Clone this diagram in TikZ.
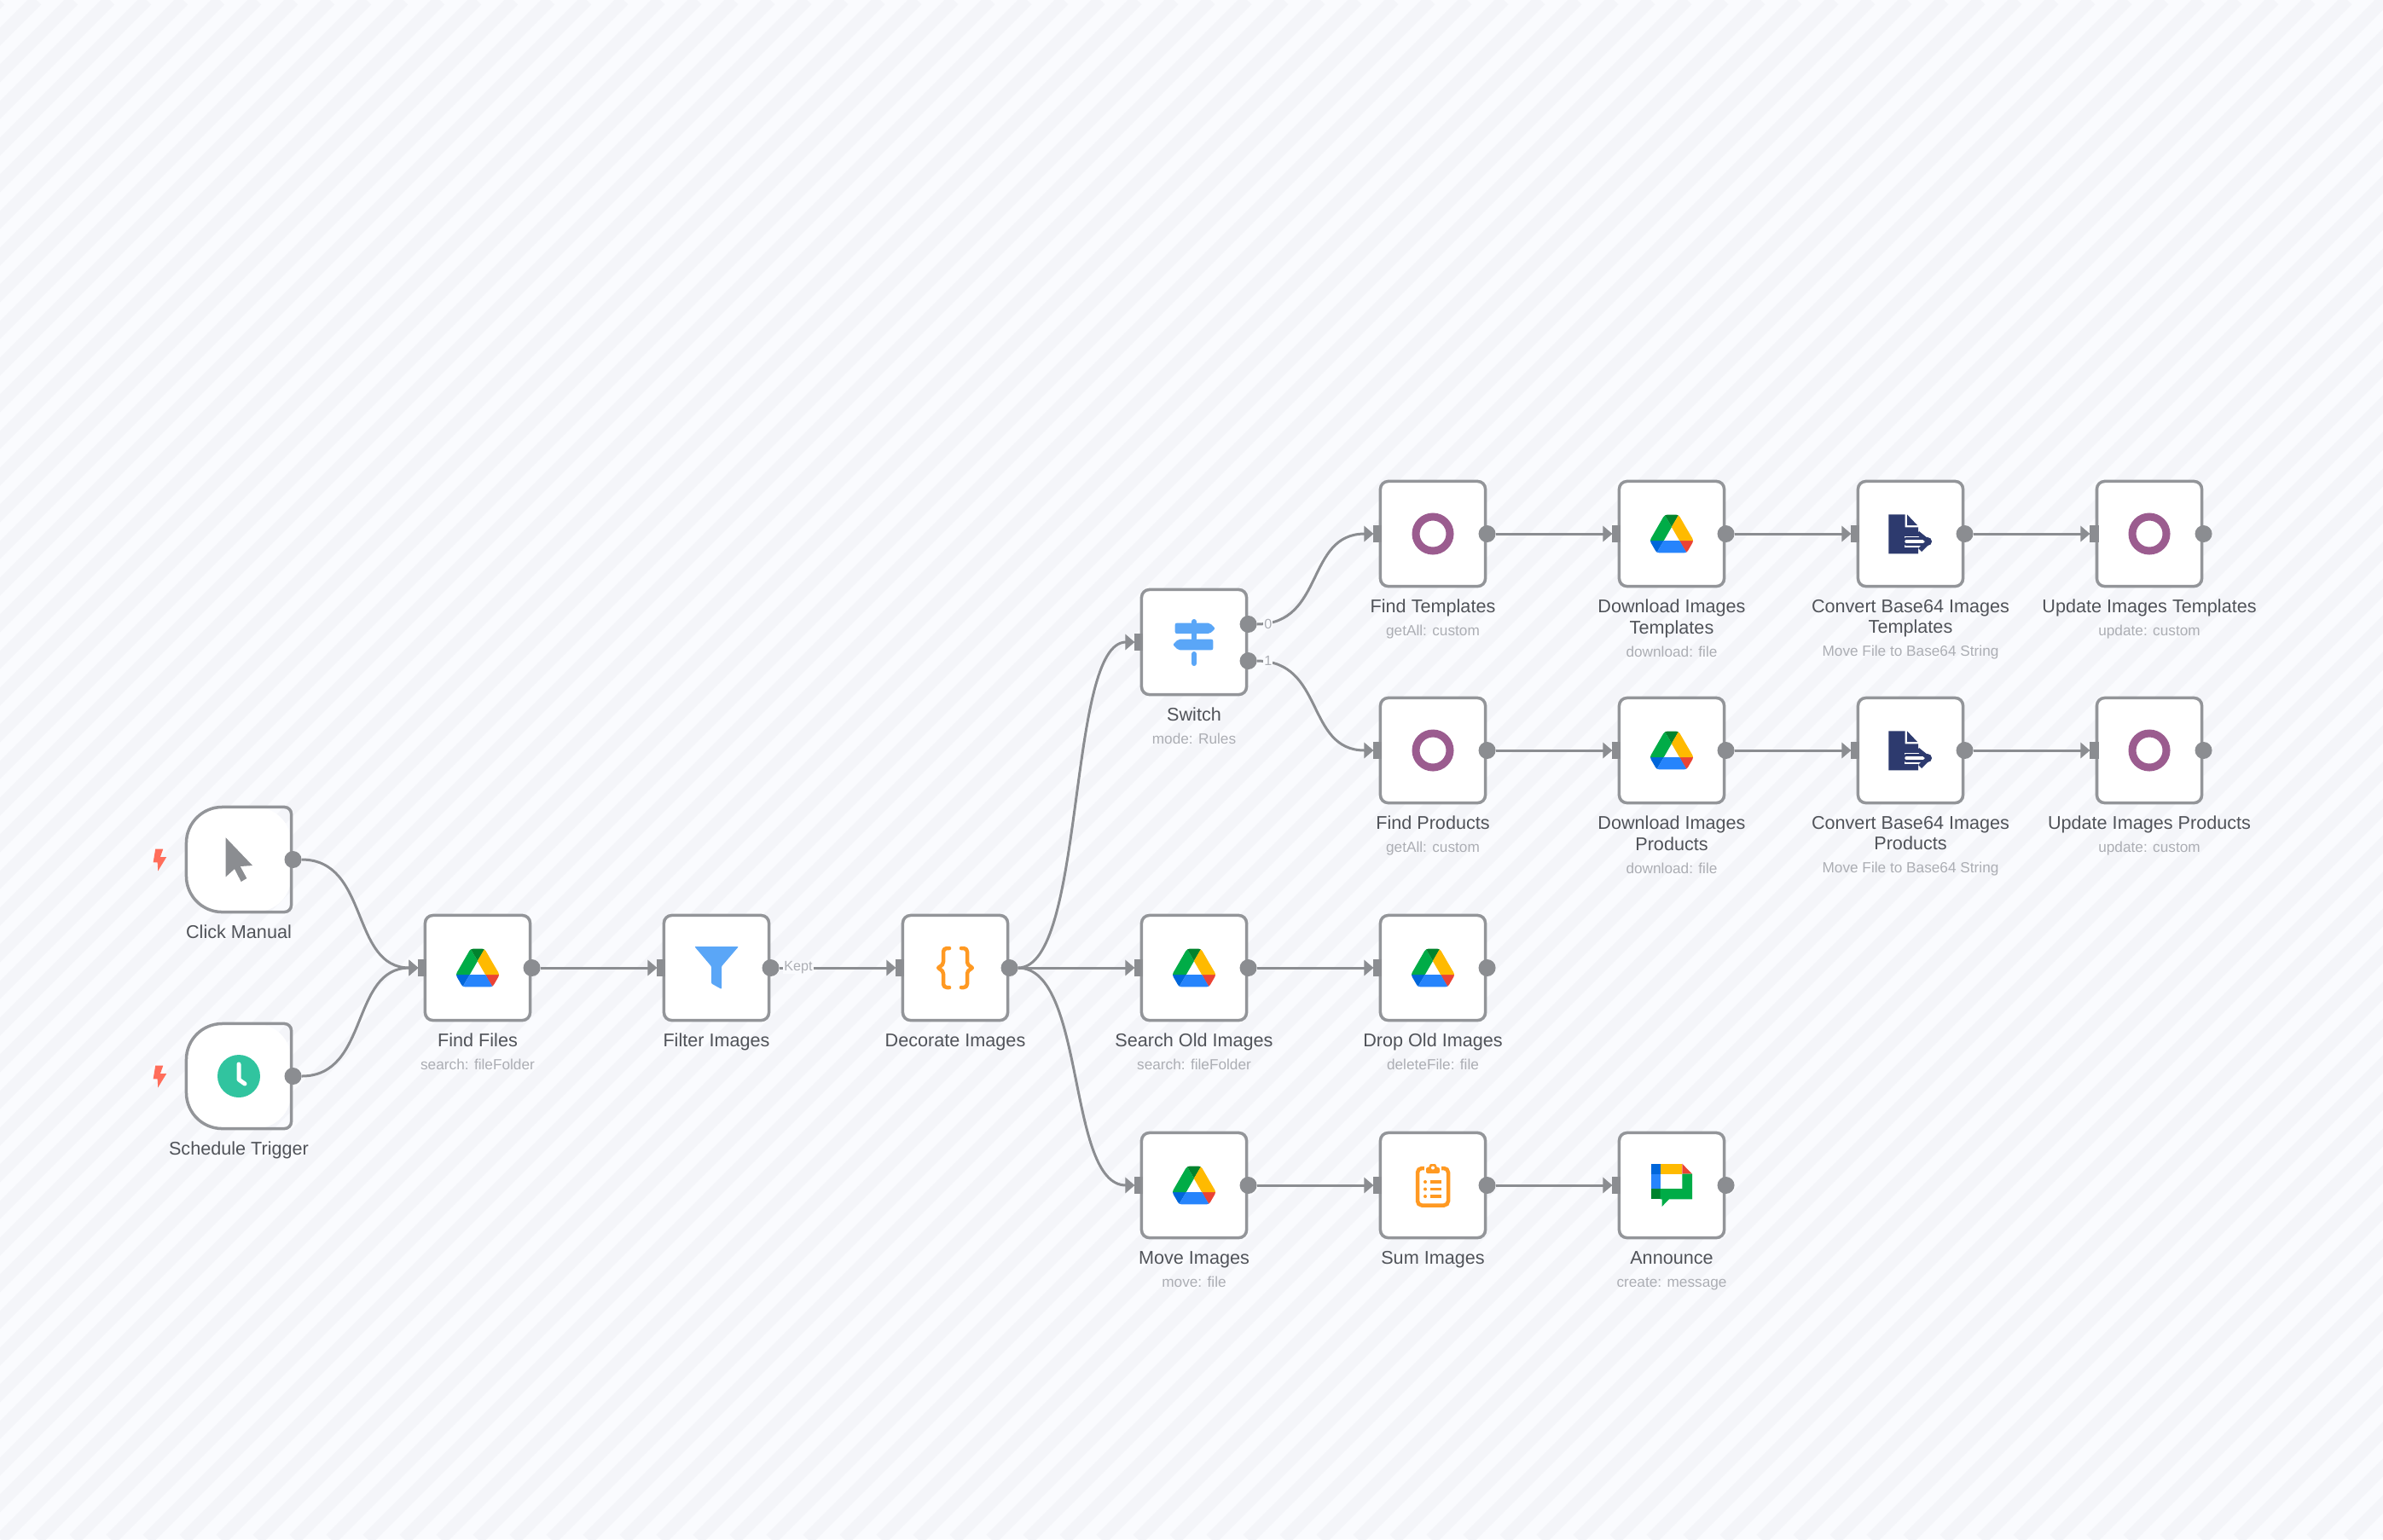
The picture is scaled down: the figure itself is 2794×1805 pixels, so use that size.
\documentclass[tikz,border=0pt]{standalone}
\usepackage{fontspec}
\setmainfont{Liberation Sans}
\usetikzlibrary{positioning,arrows.meta}

\definecolor{bgpale}{HTML}{FAFBFE}
\definecolor{bgstripe}{HTML}{F4F5F9}
\definecolor{linegray}{HTML}{8B8D91}
\definecolor{boxgray}{HTML}{939599}
\definecolor{titlegray}{HTML}{505359}
\definecolor{notegray}{HTML}{ACAEB4}
\definecolor{boltred}{HTML}{FF6D5A}
\definecolor{clockgreen}{HTML}{31C49F}
\definecolor{signblue}{HTML}{5AA6F7}
\definecolor{braceorange}{HTML}{FF9922}
\definecolor{ringpurple}{HTML}{9B5C8F}
\definecolor{docnavy}{HTML}{2D3A6E}
\definecolor{gdarkblue}{HTML}{0066DA}
\definecolor{gblue}{HTML}{2684FC}
\definecolor{gdarkgreen}{HTML}{00832D}
\definecolor{ggreen}{HTML}{00AC47}
\definecolor{gred}{HTML}{EA4335}
\definecolor{gyellow}{HTML}{FFBA00}

\tikzset{
	stripe/.style={bgstripe, line width=.15cm},
	box/.style={draw=boxgray, fill=white, line width=.035cm, rounded corners=.09cm, minimum size=1.23cm, inner sep=0, outer sep=0},
	ghostbox/.style={minimum size=1.23cm, inner sep=0, outer sep=0},
	inport/.style={fill=linegray, minimum width=.1cm, minimum height=.2cm, inner sep=0, outer sep=0, xshift=-.03cm},
	outport/.style={circle, fill=linegray, minimum size=.2cm, inner sep=0, outer sep=0, xshift=.02cm},
	wire/.style={linegray, line width=.03cm, -{Triangle[length=.11cm,width=.18cm]}},
	hook/.style={out=0, in=180, distance=.8cm},
	caption/.style={titlegray, align=center, inner sep=0, font=\fontsize{6.15}{7}\selectfont, execute at begin node=\vphantom{Ag}, execute at end node=\vphantom{Ag}},
	note/.style={notegray, inner sep=0, text height=.13cm, text depth=.04cm, font=\fontsize{4.9}{5.5}\selectfont},
	portlab/.style={notegray, inner sep=0, font=\fontsize{4.6}{5}\selectfont},
	bolt/.pic={\fill[boltred] (-4.7,-12.3) -- (4.3,-12.3) -- (1,-3) -- (8.3,-3) -- (-1.7,13.3) -- (-2.3,3.3) -- (-7.3,3.3) -- cycle;},
	cursor/.pic={\fill[linegray] (-15.3,-25.7) -- (16,7) -- (1.7,8) -- (9.3,22) -- (2.7,26) -- (-5,11) -- (-15.3,20.3) -- cycle;},
	clock/.pic={
		\fill[clockgreen] (0,0) circle (25);
		\draw[white, line width=.05cm, line cap=round, line join=round] (0,-14) -- (0,4) -- (7,9);
	},
	drive/.pic={
		\begin{scope}[scale=.573, shift={(-43.65,-39)}]
			\fill[gdarkblue] (0,53) -- (1.2,57.5) -- (10.45,73.5) -- (13.75,76.8) -- (27.5,53) -- cycle;
			\fill[ggreen] (43.65,25) -- (29.9,1.2) -- (26.6,4.5) -- (1.2,48.5) -- (0,53) -- (27.5,53) -- cycle;
			\fill[gred] (73.55,76.8) -- (76.85,73.5) -- (86.1,57.5) -- (87.3,53) -- (59.8,53) -- (65.65,64.5) -- cycle;
			\fill[gdarkgreen] (43.65,25) -- (57.4,1.2) -- (52.9,0) -- (34.4,0) -- (29.9,1.2) -- cycle;
			\fill[gblue] (59.8,53) -- (27.5,53) -- (13.75,76.8) -- (18.25,78) -- (69.05,78) -- (73.55,76.8) -- cycle;
			\fill[gyellow] (73.15,26.5) -- (60.45,4.5) -- (57.15,1.2) -- (43.4,25) -- (59.55,53) -- (87.3,53) -- (86.1,48.5) -- cycle;
		\end{scope}
	},
	funnel/.pic={\fill[signblue, rounded corners=.01cm] (-25.7,-25) -- (26,-25) -- (6,-1.7) -- (6,25) -- (-6,18.3) -- (-6,-1.7) -- cycle;},
	braces/.pic={
		\draw[braceorange, line width=.045cm, line join=round, line cap=round, rounded corners=.04cm] (-7,-23) -- (-14,-23) -- (-14,-3) -- (-22,0) -- (-14,3) -- (-14,23) -- (-7,23);
		\draw[braceorange, line width=.045cm, line join=round, line cap=round, rounded corners=.04cm] (7,-23) -- (14,-23) -- (14,-3) -- (22,0) -- (14,3) -- (14,23) -- (7,23);
	},
	signpost/.pic={
		\draw[signblue, line width=.06cm, line cap=round] (0,-24) -- (0,-4);
		\draw[signblue, line width=.06cm, line cap=round] (0,14) -- (0,25);
		\fill[signblue, rounded corners=.02cm] (-22.3,-22.3) -- (18.5,-22.3) -- (25,-16) -- (18.5,-10) -- (-22.3,-10) -- cycle;
		\fill[signblue, rounded corners=.02cm] (22.3,-3.3) -- (-18.5,-3.3) -- (-25,3) -- (-18.5,9.3) -- (22.3,9.3) -- cycle;
	},
	ring/.pic={\draw[ringpurple, line width=.09cm] (0,0) circle (20);},
	base64/.pic={
		\fill[docnavy] (-25.7,-22.7) -- (-6.5,-22.7) -- (-6.5,-7.7) -- (9,-7.7) -- (9,23.3) -- (-25.7,23.3) -- cycle;
		\fill[docnavy] (-4,-22.7) -- (8,-10) -- (-4,-10) -- cycle;
		\draw[white, line width=.13cm] (-7,9) -- (14,9);
		\draw[docnavy, line width=.1cm, line cap=round] (-5,9) -- (20,9);
		\draw[white, line width=.035cm, line cap=round] (-5,9) -- (19,9);
		\fill[docnavy] (10,-3) -- (25,9) -- (13,21) -- (9,17) -- (17,9) -- (7,1) -- cycle;
	},
	clipboard/.pic={
		\draw[braceorange, line width=.045cm, rounded corners=.05cm] (-18,-20) rectangle (18,23.5);
		\fill[white] (-10,-26) rectangle (10,-16);
		\fill[braceorange, rounded corners=.02cm] (-8,-14) -- (-8,-21) -- (-4,-21) -- (-4,-25) -- (4,-25) -- (4,-21) -- (8,-21) -- (8,-14) -- cycle;
		\fill[white] (0,-20.5) circle (2);
		\foreach \r in {-4,4.5,13} {
			\fill[braceorange] (-9,\r) circle (2);
			\draw[braceorange, line width=.035cm] (-3,\r) -- (10,\r);
		}
	},
	gchat/.pic={
		\fill[gdarkblue] (-24,-25.3) rectangle (-13.3,-13.3);
		\fill[gyellow] (-13.3,-25.3) rectangle (12.3,-13.3);
		\fill[gred] (12.3,-25.3) -- (24,-13.3) -- (12.3,-13.3) -- cycle;
		\fill[gblue] (-24,-13.3) rectangle (-13.3,4);
		\fill[gdarkgreen] (-24,4) rectangle (-13.3,16.3);
		\fill[ggreen] (12.3,-13.3) -- (24,-13.3) -- (24,16.3) -- (-3,16.3) -- (-11.5,25) -- (-11.5,16.3) -- (-13.3,16.3) -- (-13.3,4) -- (12.3,4) -- cycle;
	},
}

\begin{document}
\begin{tikzpicture}[x=.01cm, y=-.01cm]
	\useasboundingbox (0,0) rectangle (2794,1805);
	\fill[bgpale] (0,0) rectangle (2794,1805);
	\begin{scope}
		\clip (0,0) rectangle (2794,1805);
		\foreach \s in {0,43,...,4640}
		\draw[stripe] (\s,0) -- ({\s-1805},1805);
	\end{scope}
	
	% triggers
	\foreach \name/\x/\y/\ico/\lab in {click/280/1008/cursor/Click Manual, sched/280/1262/clock/Schedule Trigger} {
		\node[ghostbox] (\name) at (\x,\y) {};
		\fill[white, rounded corners=.42cm] (\name.north east) -- (\name.north west) -- (\name.south west) -- (\name.south east) -- cycle;
		\draw[boxgray, line width=.035cm, line cap=round] (\name.north) [rounded corners=.08cm] -- (\name.north east) -- (\name.south east) -- (\name.south) [rounded corners=.42cm] -- (\name.south west) -- (\name.north west) -- (\name.north);
		\node[outport] (\name-o) at (\name.east) {};
		\pic at (\name) {\ico};
		\pic at ([xshift=-.93cm]\name.center) {bolt};
		\node[caption, below=.15cm of \name] (\name-t) {\lab};
	}
	
	\foreach \name/\x/\y/\ico/\lab in {
		files/560/1135/drive/Find Files,
		filter/840/1135/funnel/Filter Images,
		deco/1120/1135/braces/Decorate Images,
		oldfind/1400/1135/drive/Search Old Images,
		olddrop/1680/1135/drive/Drop Old Images,
		move/1400/1390/drive/Move Images,
		sum/1680/1390/clipboard/Sum Images,
		announce/1960/1390/gchat/Announce,
		findt/1680/626/ring/Find Templates,
		dlt/1960/626/drive/{Download Images\\Templates},
		convt/2240/626/base64/{Convert Base64 Images\\Templates},
		updt/2520/626/ring/Update Images Templates,
		findp/1680/880/ring/Find Products,
		dlp/1960/880/drive/{Download Images\\Products},
		convp/2240/880/base64/{Convert Base64 Images\\Products},
		updp/2520/880/ring/Update Images Products} {
		\node[box] (\name) at (\x,\y) {};
		\node[inport] (\name-i) at (\name.west) {};
		\node[outport] (\name-o) at (\name.east) {};
		\pic at (\name) {\ico};
		\node[caption, below=.15cm of \name] (\name-t) {\lab};
	}
	
	\node[box] (switch) at (1400,753) {};
	\node[inport] (switch-i) at (switch.west) {};
	\node[outport, yshift=.21cm] (switch-o0) at (switch.east) {};
	\node[outport, yshift=-.22cm] (switch-o1) at (switch.east) {};
	\pic at (switch) {signpost};
	\node[caption, below=.15cm of switch] (switch-t) {Switch};
	
	\foreach \name/\note in {files/search: fileFolder, switch/mode: Rules, oldfind/search: fileFolder, olddrop/deleteFile: file, move/move: file, announce/create: message, findt/getAll: custom, dlt/download: file, convt/Move File to Base64 String, updt/update: custom, findp/getAll: custom, dlp/download: file, convp/Move File to Base64 String, updp/update: custom}
	\node[note, below=.08cm of \name-t] (\name-s) {\note};
	
	% connectors
	\foreach \a/\b in {click-o/files-i, sched-o/files-i, files-o/filter-i, filter-o/deco-i, deco-o/switch-i, deco-o/oldfind-i, deco-o/move-i, oldfind-o/olddrop-i, move-o/sum-i, sum-o/announce-i, switch-o0/findt-i, switch-o1/findp-i, findt-o/dlt-i, dlt-o/convt-i, convt-o/updt-i, findp-o/dlp-i, dlp-o/convp-i, convp-o/updp-i}
	\draw[wire] (\a) to[hook] (\b);
	
	\node[portlab, fill=bgpale, inner xsep=.01cm] (kept) at (936,1135) {Kept};
	\node[portlab, fill=bgpale, inner xsep=.01cm, right=.07cm of switch-o0] (case0) {0};
	\node[portlab, fill=bgpale, inner xsep=.01cm, right=.07cm of switch-o1] (case1) {1};
\end{tikzpicture}
\end{document}
